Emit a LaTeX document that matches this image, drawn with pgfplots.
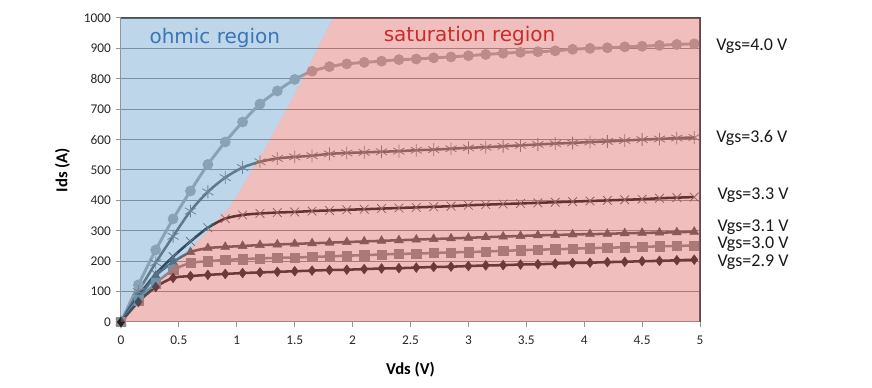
\documentclass[border=0pt]{standalone}
\usepackage{fontspec}
\setmainfont{Carlito}
\newfontfamily\verd{DejaVu Sans}
\usepackage{pgfplots}
\pgfplotsset{compat=1.18}
\usepackage{pgfplotstable}

\definecolor{pinkc}{RGB}{220,93,93}
\definecolor{bluec}{RGB}{92,152,202}
\definecolor{gridc}{RGB}{140,140,140}
\definecolor{axc}{RGB}{150,150,150}
\definecolor{cA}{RGB}{170,170,170}
\definecolor{cB}{RGB}{100,100,100}
\definecolor{cC}{RGB}{22,22,22}
\definecolor{cD}{RGB}{85,85,85}
\definecolor{cE}{RGB}{140,140,140}
\definecolor{cF}{RGB}{35,35,35}
\definecolor{ohmc}{RGB}{36,96,170}
\definecolor{satc}{RGB}{192,10,10}

\pgfplotstableread{
V     a40 a36 a33 a31 a30 a29
0     0   0   0   0   0   0
0.15  122 100 85  78  72  66
0.30  237 195 158 152 128 115
0.45  339 282 215 197 171 145
0.60  431 365 265 230 194 151
0.75  518 428 310 243 200 155
0.90  592 475 340 247 204 158
1.05  658 508 352 250 207 161
1.20  717 527 357 253 209 163
1.35  760 538 360 255 211 165
1.50  798 543 362 257 212 167
1.65  825 547 365 259 214 169
1.80  840 553 367 261 216 171
1.95  849 556 369 263 218 172
2.10  854 558 371 265 220 174
2.25  858 560 373 267 222 176
2.40  863 562 375 269 224 177
2.55  865 565 377 271 225 179
2.70  869 567 379 273 227 181
2.85  872 570 381 275 229 182
3.00  876 573 384 277 230 184
3.15  880 575 386 279 232 186
3.30  884 578 388 281 234 187
3.45  887 581 390 283 236 189
3.60  889 584 392 285 238 190
3.75  892 587 394 286 239 192
3.90  897 589 396 288 241 194
4.05  900 592 398 289 243 195
4.20  902 594 400 290 244 197
4.35  905 597 402 292 246 198
4.50  907 600 404 293 247 200
4.65  910 602 407 294 249 201
4.80  913 605 409 295 250 203
4.95  915 607 411 297 252 205
}\data

\begin{document}
\begin{tikzpicture}
\begin{axis}[
  set layers,
  scale only axis, width=434.25pt, height=228pt,
  xmin=0, xmax=5, ymin=0, ymax=1000,
  xtick={0,0.5,1,1.5,2,2.5,3,3.5,4,4.5,5},
  ytick={0,100,200,300,400,500,600,700,800,900,1000},
  ymajorgrids, grid style={line width=0.75pt, draw=gridc},
  axis line style={draw=axc, line width=0.75pt},
  tick style={draw=axc, line width=0.75pt},
  tick align=outside, major tick length=4pt,
  xtick pos=bottom, ytick pos=left,
  /pgf/number format/assume math mode=true,
  /pgf/number format/1000 sep={},
  ticklabel style={font=\fontsize{10}{12}\selectfont, text=black!85},
  xticklabel style={yshift=-3pt},
  clip=false,
  every axis x label/.style={at={(axis description cs:0.5,0)}, yshift=-36pt, anchor=center},
  every axis y label/.style={at={(axis description cs:0,0.5)}, xshift=-44pt, rotate=90, anchor=center},
  xlabel={\fontsize{12.5}{14}\selectfont\bfseries Vds (V)},
  ylabel={\fontsize{12.5}{14}\selectfont\bfseries Ids (A)},
]
\coordinate (O) at (rel axis cs:0,0);
\coordinate (OHM) at (axis cs:0.81,934);
\coordinate (SAT) at (axis cs:3.01,941);
% curves
\addplot[smooth, color=cA, line width=2.2pt, mark=*, mark size=3.8pt, mark options={fill=cA, draw=cA, line width=0.5pt}] table[x=V, y=a40] {\data};
\addplot[smooth, color=cB, line width=1.9pt, mark=asterisk, mark size=4.8pt, mark options={draw=cB!85!white, line width=0.6pt}] table[x=V, y=a36] {\data};
\addplot[smooth, color=cC, line width=1.9pt, mark=x, mark size=4.6pt, mark options={draw=cC!65!white, line width=0.6pt}] table[x=V, y=a33] {\data};
\addplot[smooth, color=cD, line width=1.9pt, mark=triangle*, mark size=3.9pt, mark options={fill=cD, draw=cD, line width=0.3pt}] table[x=V, y=a31] {\data};
\addplot[smooth, color=cE, line width=1.9pt, mark=square*, mark size=3.5pt, mark options={fill=cE, draw=cE, line width=0.3pt}] table[x=V, y=a30] {\data};
\addplot[smooth, color=cF, line width=1.9pt, mark=diamond*, mark size=3.7pt, mark options={fill=cF, draw=cF, line width=0.3pt}] table[x=V, y=a29] {\data};
% top and right frame
\addplot[on layer=axis foreground, draw=black!70, line width=1pt, mark=none] coordinates {(0,1000) (5,1000) (5,0)};
% regions (translucent, over everything)
\addplot[on layer=axis foreground, draw=none, fill=pinkc, fill opacity=0.4, mark=none] coordinates {(0,0) (0.25,100) (0.5,200) (0.75,300) (0.95,385) (1.25,575) (1.5,750) (1.83,1000) (5,1000)} \closedcycle;
\addplot[on layer=axis foreground, draw=none, fill=bluec, fill opacity=0.4, mark=none] coordinates {(0,1000) (1.83,1000) (1.5,750) (1.25,575) (0.95,385) (0.75,300) (0.5,200) (0.25,100) (0,0)} \closedcycle;
% curve labels
\begin{scope}[every node/.style={anchor=west, font=\fontsize{13.5}{15}\selectfont, text=black!90, inner sep=0pt}]
\node at (axis cs:5.14,908) {Vgs=4.0 V};
\node at (axis cs:5.14,605) {Vgs=3.6 V};
\node at (axis cs:5.15,418) {Vgs=3.3 V};
\node at (axis cs:5.15,312) {Vgs=3.1 V};
\node at (axis cs:5.15,257) {Vgs=3.0 V};
\node at (axis cs:5.15,197) {Vgs=2.9 V};
\end{scope}
\end{axis}
\node[text=ohmc, font=\verd\fontsize{15}{18}\selectfont] at (OHM) {ohmic region};
\node[text=satc, font=\verd\fontsize{15}{18}\selectfont] at (SAT) {saturation region};
\path (O) ++(-90.75pt,-49.5pt) rectangle ++(654pt,291pt);
\end{tikzpicture}
\end{document}
